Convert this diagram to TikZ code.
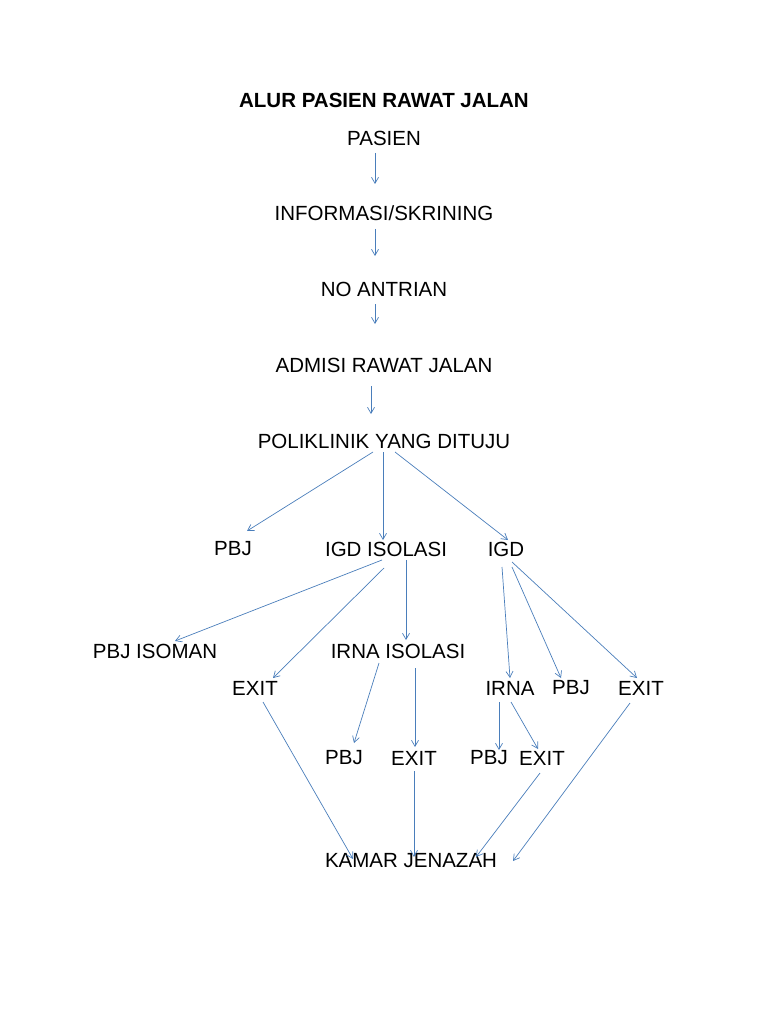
\documentclass[tikz,border=0pt]{standalone}
\usepackage{fontspec}
\setmainfont{Liberation Sans}
\usetikzlibrary{arrows.meta}
\begin{document}
\begin{tikzpicture}[x=1pt,y=-1pt,
  lbl/.style={font=\fontsize{20.5}{22}\selectfont,inner sep=0pt},
  arr/.style={draw={rgb,255:red,74;green,126;blue,187},line width=0.7pt,-{Straight Barb[length=6pt,width=7pt]}}]
\useasboundingbox (0,0) rectangle (768,1024);
\node[lbl,font=\fontsize{20.5}{22}\selectfont\bfseries] (t) at (384,100) {ALUR PASIEN RAWAT JALAN};
\node[lbl] (a) at (384,138) {PASIEN};
\node[lbl] (b) at (384,213) {INFORMASI/SKRINING};
\node[lbl] (c) at (384,289) {NO ANTRIAN};
\node[lbl] (d) at (384,365) {ADMISI RAWAT JALAN};
\node[lbl] (e) at (384,441) {POLIKLINIK YANG DITUJU};
\node[lbl] (f1) at (233,549) {PBJ};
\node[lbl] (f2) at (386,549) {IGD ISOLASI};
\node[lbl] (f3) at (506,549) {IGD};
\node[lbl] (g1) at (155,651) {PBJ ISOMAN};
\node[lbl] (g2) at (398,651) {IRNA ISOLASI};
\node[lbl] (h1) at (255,688) {EXIT};
\node[lbl] (h2) at (510,688) {IRNA};
\node[lbl] (h3) at (571,688) {PBJ};
\node[lbl] (h4) at (641,688) {EXIT};
\node[lbl] (i1) at (344,758) {PBJ};
\node[lbl] (i2) at (414,758) {EXIT};
\node[lbl] (i3) at (489,758) {PBJ};
\node[lbl] (i4) at (542,758) {EXIT};
\node[lbl] (k) at (411,861) {KAMAR JENAZAH};
\foreach \n/\xa/\ya/\xb/\yb in {
 1/375/153/375/184, 2/375/229/375/256, 3/375/304/375/324, 4/371/386/371/414,
 5/373/452/247/531, 6/383/452/383/540, 7/395/452/508/540,
 8/382/560/175/641, 9/384/568/273/678, 10/406/560/406/640,
 11/502/567/510/678, 12/512/567/561/678, 13/512/562/637/678,
 14/379/663/354/743, 15/415/668/415/747, 16/263/702/353/859,
 17/499/702/499/750, 18/511/702/538/749, 19/414/771/414/857,
 20/540/773/476/857, 21/630/703/513/861} {
  \coordinate (s\n) at (\xa,\ya);
  \coordinate (e\n) at (\xb,\yb);
  \draw[arr] (s\n) -- (e\n);
}
\end{tikzpicture}
\end{document}
